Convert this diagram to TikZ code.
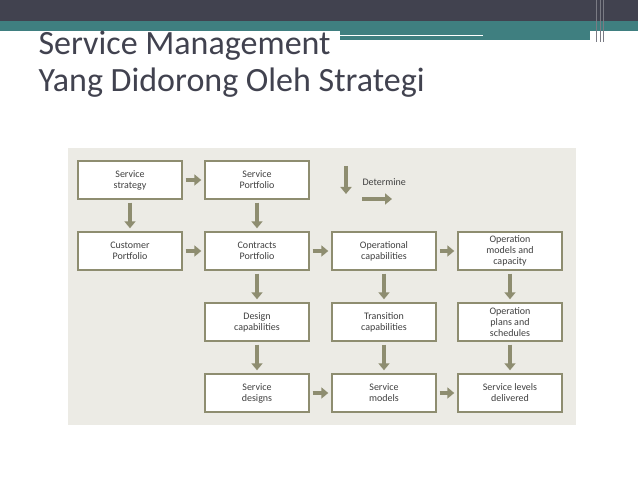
\documentclass[tikz,border=0pt]{standalone}
\usepackage{fontspec}
\setmainfont{Carlito}
\usetikzlibrary{arrows.meta}
\definecolor{slate}{HTML}{41424F}
\definecolor{teal2}{HTML}{3F7F80}
\definecolor{olive}{HTML}{8E8D70}
\definecolor{panel}{HTML}{ECEBE5}
\begin{document}
\begin{tikzpicture}[
  x=1pt,y=-1pt,
  box/.style={rectangle,draw=olive,line width=1.4pt,fill=white,minimum width=104pt,minimum height=38pt,
    align=center,font=\fontsize{10}{11}\selectfont,text=black!75},
  flow/.style={draw=olive,line width=4.5pt,-{Triangle[length=7pt,width=11pt]},shorten <=3pt,shorten >=3pt}
]
\useasboundingbox (0,0) rectangle (638,478);
% slide header
\fill[slate] (0,0) rectangle (638,21);
\fill[teal2] (0,21) rectangle (638,31);
\fill[teal2] (340,31) rectangle (590,40);
\draw[white,line width=0.8pt] (340,35) -- (483,35);
\foreach \x in {596,600,603} \draw[slate!70,line width=0.6pt] (\x,0) -- (\x,42);
\node[anchor=west,text=slate,font=\fontsize{34}{37}\selectfont,align=left] (title) at (35,64)
  {Service Management\\Yang Didorong Oleh Strategi};
% diagram panel
\fill[panel] (68,148) rectangle (576,425);

\node[box] (strat) at (130,180) {Service\\strategy};
\node[box] (sport) at (257,180) {Service\\Portfolio};
\node[box] (cust) at (130,251) {Customer\\Portfolio};
\node[box] (contr) at (257,251) {Contracts\\Portfolio};
\node[box] (opcap) at (384,251) {Operational\\capabilities};
\node[box] (opmod) at (510,251) {Operation\\models and\\capacity};
\node[box] (design) at (257,322) {Design\\capabilities};
\node[box] (trans) at (384,322) {Transition\\capabilities};
\node[box] (plans) at (510,322) {Operation\\plans and\\schedules};
\node[box] (sdes) at (257,393) {Service\\designs};
\node[box] (smod) at (384,393) {Service\\models};
\node[box] (slev) at (510,393) {Service levels\\delivered};

\draw[flow] (strat) -- (sport);
\draw[flow] (strat) -- (cust);
\draw[flow] (sport) -- (contr);
\draw[flow] (cust) -- (contr);
\draw[flow] (contr) -- (opcap);
\draw[flow] (opcap) -- (opmod);
\draw[flow] (contr) -- (design);
\draw[flow] (design) -- (sdes);
\draw[flow] (opcap) -- (trans);
\draw[flow] (trans) -- (smod);
\draw[flow] (opmod) -- (plans);
\draw[flow] (plans) -- (slev);
\draw[flow] (sdes) -- (smod);
\draw[flow] (smod) -- (slev);

% legend
\coordinate (ld1) at (346,166);
\coordinate (ld2) at (346,194);
\coordinate (lr1) at (362,199);
\coordinate (lr2) at (392,199);
\draw[flow,shorten <=0pt,shorten >=0pt] (ld1) -- (ld2);
\draw[flow,shorten <=0pt,shorten >=0pt] (lr1) -- (lr2);
\node[anchor=west,font=\fontsize{10}{11}\selectfont,text=black!75] (det) at (359,182) {Determine};
\end{tikzpicture}
\end{document}
